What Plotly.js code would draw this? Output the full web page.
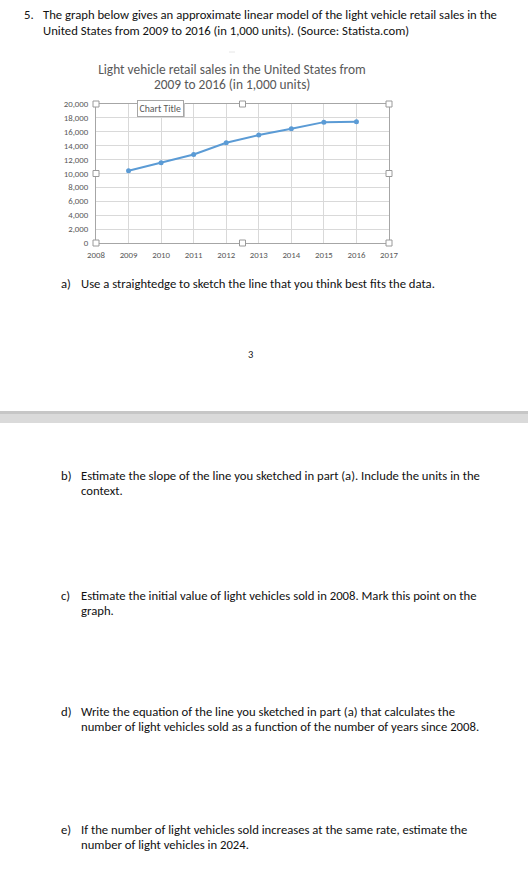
<!DOCTYPE html>
<html>
<head>
<meta charset="utf-8">
<script src="https://cdn.plot.ly/plotly-3.0.1.min.js"></script>
<style>
  html, body { margin: 0; padding: 0; background: #fff; }
  #page { width: 528px; height: 870px; }
</style>
</head>
<body>
<div id="page"></div>
<script>
'use strict';

// chart data
const years = [2009, 2010, 2011, 2012, 2013, 2014, 2015, 2016];
const sales = [10400, 11550, 12740, 14430, 15530, 16450, 17390, 17460];
const xRange = [2008, 2017];
const yRange = [0, 20000];
// title is set tighter than Plotly's line spacing, so the two lines are placed separately
const titleLines = ['Light vehicle retail sales in the United States from', '2009 to 2016 (in 1,000 units)'];

// worksheet text: [label, first line, second line]
const intro = ['5.', 'The graph below gives an approximate linear model of the light vehicle retail sales in the',
    'United States from 2009 to 2016 (in 1,000 units). (Source: Statista.com)'];
const parts = [
    ['a)', 'Use a straightedge to sketch the line that you think best fits the data.', ''],
    ['b)', 'Estimate the slope of the line you sketched in part (a). Include the units in the', 'context.'],
    ['c)', 'Estimate the initial value of light vehicles sold in 2008. Mark this point on the', 'graph.'],
    ['d)', 'Write the equation of the line you sketched in part (a) that calculates the',
        'number of light vehicles sold as a function of the number of years since 2008.'],
    ['e)', 'If the number of light vehicles sold increases at the same rate, estimate the',
        'number of light vehicles in 2024.']
];
const partTops = [283, 475, 595, 711, 829];

// plot box in page pixels
const L = 96, R = 389, T = 104, B = 243, W = 528, H = 870;
const fx = x => (x - L) / (R - L);
const fy = y => (B - y) / (B - T);

const FAMILY = 'Calibri, Carlito, Lato, sans-serif';
const BODY_FONT = {family: FAMILY, size: 12.7, color: '#111'};
const GREY = '#595959';
const TITLE_FONT = {family: FAMILY, size: 13.4, color: GREY};

function textLine(text, x, y, extra) {
    return Object.assign({
        text: text, xref: 'paper', yref: 'paper', x: fx(x), y: fy(y),
        xanchor: 'left', yanchor: 'middle', showarrow: false, align: 'left',
        font: BODY_FONT
    }, extra || {});
}

let annotations = [];
annotations.push(textLine(intro[0], 22, 14));
annotations.push(textLine(intro[1], 41, 14));
annotations.push(textLine(intro[2], 41, 30));
parts.forEach((p, i) => {
    annotations.push(textLine(p[0], 59, partTops[i]));
    annotations.push(textLine(p[1], 79, partTops[i]));
    if (p[2]) {
        annotations.push(textLine(p[2], 79, partTops[i] + 15));
    }
});
// second title line
annotations.push(textLine(titleLines[1], 232, 84, {xanchor: 'center', font: TITLE_FONT}));
// page number
annotations.push(textLine('3', 250, 354, {xanchor: 'center', font: Object.assign({}, BODY_FONT, {size: 10.5})}));
// placeholder "Chart Title" box left by the spreadsheet
annotations.push({
    text: 'Chart Title', xref: 'paper', yref: 'paper', x: fx(160), y: fy(108),
    xanchor: 'center', yanchor: 'middle', showarrow: false,
    font: {family: FAMILY, size: 9.8, color: GREY},
    bgcolor: '#fff', bordercolor: '#a6a6a6', borderwidth: 1, borderpad: 1.5
});

let shapes = [];
// shadow under the chart title box
shapes.push({type: 'rect', xref: 'paper', yref: 'paper', x0: fx(138), x1: fx(185), y0: fy(117), y1: fy(103),
    line: {width: 0}, fillcolor: '#c8c8c8', layer: 'above'});
// selection handles on the plot frame (paper refs so they are not clipped)
[[0, 1], [0.5, 1], [1, 1], [0, 0.5], [1, 0.5], [0, 0], [0.5, 0], [1, 0]].forEach(h => {
    shapes.push({type: 'rect', xref: 'paper', yref: 'paper', xsizemode: 'pixel', ysizemode: 'pixel',
        xanchor: h[0], yanchor: h[1], x0: -3, x1: 3, y0: -3, y1: 3,
        line: {color: '#9a9a9a', width: 1}, fillcolor: '#fff', layer: 'above'});
});
// little dash above the title
shapes.push({type: 'line', xref: 'paper', yref: 'paper', x0: fx(229), x1: fx(235), y0: fy(52), y1: fy(52),
    line: {color: '#e6e6e6', width: 1}});
// page break band
shapes.push({type: 'rect', xref: 'paper', yref: 'paper', x0: fx(0), x1: fx(W), y0: fy(423), y1: fy(411),
    line: {width: 0}, fillcolor: '#dadada'});
shapes.push({type: 'rect', xref: 'paper', yref: 'paper', x0: fx(0), x1: fx(W), y0: fy(414), y1: fy(411),
    line: {width: 0}, fillcolor: '#c6c6c6'});

const trace = {
    type: 'scatter', mode: 'lines+markers',
    x: years, y: sales,
    line: {color: '#5b9bd5', width: 2},
    marker: {color: '#5b9bd5', size: 5},
    hoverinfo: 'x+y'
};

const tickFont = {family: FAMILY, size: 8.8, color: GREY};
const layout = {
    width: W, height: H,
    margin: {l: L, r: W - R, t: T, b: H - B},
    paper_bgcolor: '#fff', plot_bgcolor: '#fff',
    showlegend: false,
    title: {
        text: titleLines[0], xref: 'container', yref: 'container',
        x: 232 / W, y: 1 - 69 / H, xanchor: 'center', yanchor: 'middle',
        font: TITLE_FONT
    },
    xaxis: {
        range: xRange, dtick: 1, tick0: 2008, tickformat: 'd',
        showgrid: true, gridcolor: '#d9d9d9', zeroline: false,
        showline: true, linecolor: '#a6a6a6', mirror: true,
        ticks: '', ticklabelstandoff: 3, tickfont: tickFont, fixedrange: true
    },
    yaxis: {
        range: yRange, dtick: 2000, tickformat: ',d',
        showgrid: true, gridcolor: '#d9d9d9', zeroline: false,
        showline: true, linecolor: '#a6a6a6', mirror: true,
        ticks: '', ticklabelstandoff: 5, tickfont: tickFont, fixedrange: true
    },
    annotations: annotations,
    shapes: shapes
};

Plotly.newPlot('page', [trace], layout, {displayModeBar: false, staticPlot: true});
</script>
</body>
</html>
